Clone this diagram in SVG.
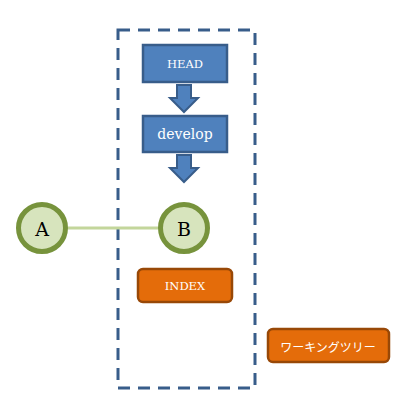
<svg xmlns="http://www.w3.org/2000/svg" width="411" height="409" viewBox="0 0 411 409">
<style>
.box{fill:#4f81bd;stroke:#385d8a;stroke-width:2.5}
.arr{fill:#4f81bd;stroke:#385d8a;stroke-width:2;stroke-linejoin:miter}
.circ{fill:#d7e4bd;stroke:#77933c;stroke-width:5}
.obox{fill:#e46c0a;stroke:#984807;stroke-width:2.5}
.t{font-family:"DejaVu Serif","Liberation Serif","Noto Sans CJK JP",serif;fill:#fff;text-anchor:middle;dominant-baseline:central}
.tj{font-family:"Noto Sans CJK JP",sans-serif;fill:#fff;text-anchor:middle;dominant-baseline:central}
.tk{font-family:"DejaVu Serif","Liberation Serif",serif;fill:#000;text-anchor:middle;dominant-baseline:central}
</style>
<rect width="411" height="409" fill="#fff"/>
<rect id="frame" x="118" y="30" width="137" height="358" fill="none" stroke="#385d8a" stroke-width="3" stroke-dasharray="12,8"/>
<g id="connectors">
<line x1="68" y1="228" x2="158" y2="228" stroke="#c3d69b" stroke-width="3"/>
<path class="arr" d="M177,85 H191 V98 H198 L184,112 L170,98 H177 Z"/>
<path class="arr" d="M177,155 H191 V168 H198 L184,182 L170,168 H177 Z"/>
</g>
<g id="head"><rect class="box" x="143" y="45" width="84" height="37"/><text class="t" x="185" y="64" font-size="11.5">HEAD</text></g>
<g id="develop"><rect class="box" x="143" y="116" width="84" height="36"/><text class="t" x="185" y="134" font-size="14">develop</text></g>
<g id="nodeA"><circle class="circ" cx="42" cy="228" r="23.5"/><text class="tk" x="42" y="229" font-size="19">A</text></g>
<g id="nodeB"><circle class="circ" cx="184" cy="228" r="23.5"/><text class="tk" x="184" y="229" font-size="19">B</text></g>
<g id="index"><rect class="obox" x="138" y="269" width="94" height="33" rx="5"/><text class="t" x="185" y="286" font-size="11.5">INDEX</text></g>
<g id="worktree"><rect class="obox" x="268" y="329" width="121" height="33" rx="5"/><text class="tj" x="328" y="346" font-size="12">ワーキングツリー</text></g>
</svg>
